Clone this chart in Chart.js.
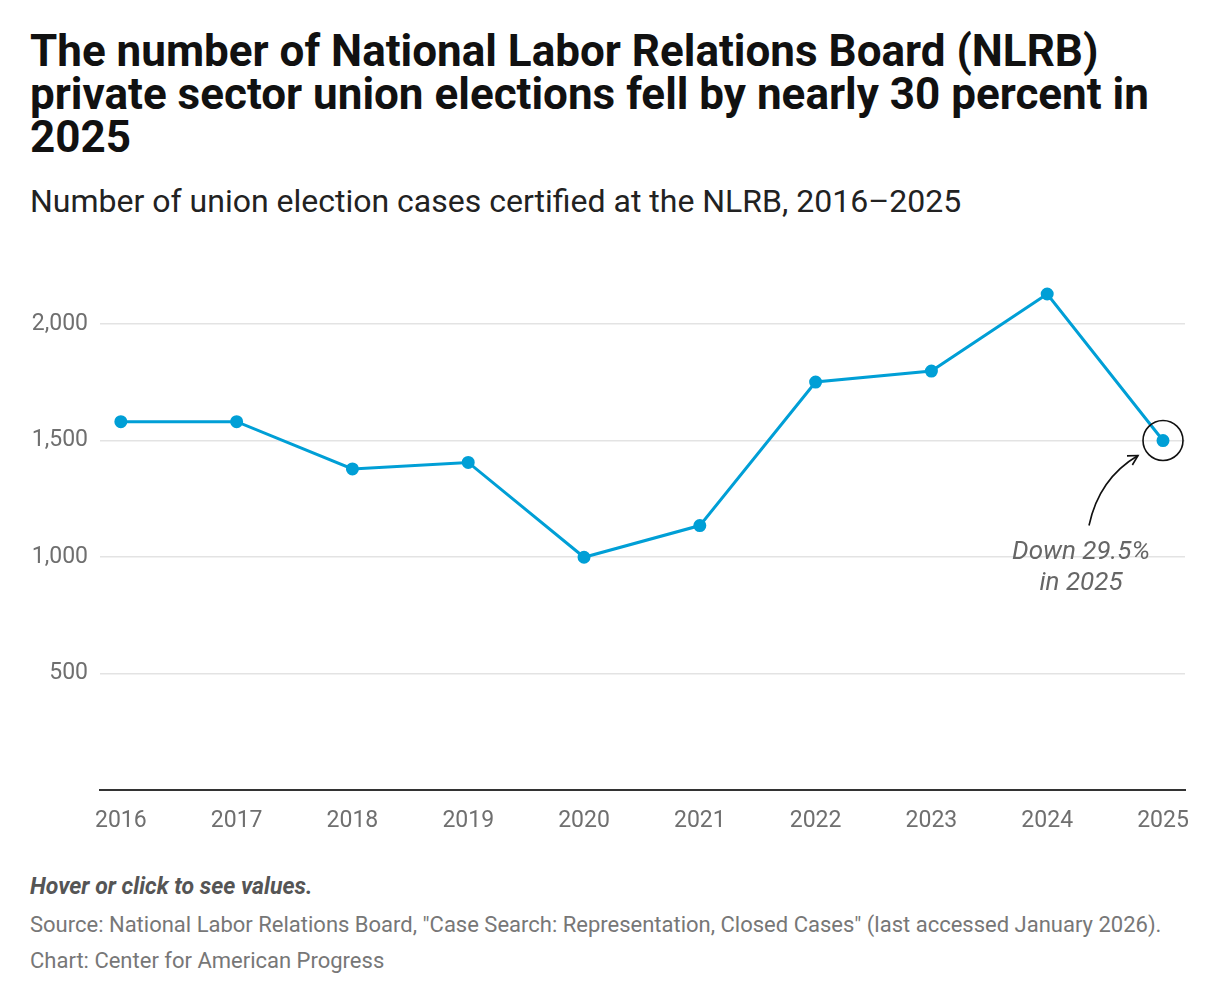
<!DOCTYPE html>
<html>
<head>
<meta charset="utf-8">
<script src="https://cdn.jsdelivr.net/npm/chart.js@4/dist/chart.umd.min.js"></script>
<style>
  html, body { margin: 0; padding: 0; background: #fff; }
  body { width: 1220px; height: 1004px; position: relative; font-family: Roboto, "Noto Sans", sans-serif; overflow: hidden; }
  .title { position: absolute; left: 30px; top: 30px; width: 1170px; font-size: 44px; line-height: 43px; font-weight: 700; color: #111; }
  .subtitle { position: absolute; left: 30px; top: 183px; font-size: 32px; line-height: 36px; color: #222; white-space: nowrap; }
  .chart-box { position: absolute; left: 0; top: 240px; width: 1220px; height: 620px; }
  .note { position: absolute; left: 30px; font-size: 22px; line-height: 24px; color: #777; white-space: nowrap; }
  .hover { top: 875px; font-weight: 700; font-style: italic; color: #555; font-size: 23px; }
  .source { top: 913px; }
  .credit { top: 949px; }
</style>
</head>
<body>
<div class="title">The number of National Labor Relations Board (NLRB) private sector union elections fell by nearly 30 percent in 2025</div>
<div class="subtitle">Number of union election cases certified at the NLRB, 2016–2025</div>
<div class="chart-box"><canvas id="elections-chart"></canvas></div>
<div class="note hover">Hover or click to see values.</div>
<div class="note source">Source: National Labor Relations Board, "Case Search: Representation, Closed Cases" (last accessed January 2026).</div>
<div class="note credit">Chart: Center for American Progress</div>

<script>
// Data
const years = [2016, 2017, 2018, 2019, 2020, 2021, 2022, 2023, 2024, 2025];
const elections = [1581, 1581, 1378, 1406, 999, 1135, 1751, 1798, 2129, 1500];
const yTicks = [500, 1000, 1500, 2000];
const noteLines = ['Down 29.5%', 'in 2025'];

const lineColor = '#009fd6';

// Circle + curved arrow + note around the last point
const calloutPlugin = {
    id: 'callout',
    afterDatasetsDraw(chart) {
        const meta = chart.getDatasetMeta(0);
        const last = meta.data[meta.data.length - 1];
        if (!last) return;
        const px = last.x, py = last.y;
        const ctx = chart.ctx;
        ctx.save();
        ctx.strokeStyle = '#111';
        ctx.lineWidth = 1.6;
        ctx.beginPath();
        ctx.arc(px, py, 20, 0, Math.PI * 2);
        ctx.stroke();

        // curved arrow
        const sx = px - 74, sy = py + 85;
        const ex = px - 25, ey = py + 15;
        ctx.beginPath();
        ctx.moveTo(sx, sy);
        ctx.quadraticCurveTo(px - 64, py + 38, ex, ey);
        ctx.stroke();
        const ang = Math.atan2(ey - (py + 38), ex - (px - 64));
        ctx.beginPath();
        ctx.moveTo(ex - 11 * Math.cos(ang - 0.5), ey - 11 * Math.sin(ang - 0.5));
        ctx.lineTo(ex, ey);
        ctx.lineTo(ex - 11 * Math.cos(ang + 0.5), ey - 11 * Math.sin(ang + 0.5));
        ctx.stroke();

        ctx.fillStyle = '#666';
        ctx.font = 'italic 26px Roboto, sans-serif';
        ctx.textAlign = 'center';
        ctx.textBaseline = 'middle';
        noteLines.forEach((t, i) => ctx.fillText(t, px - 82, py + 112 + i * 31));
        ctx.restore();
    }
};

function createChart() {
    const ctx = document.getElementById('elections-chart').getContext('2d');
    new Chart(ctx, {
        type: 'line',
        data: {
            datasets: [{
                label: 'Union election cases',
                data: years.map((y, i) => ({ x: y, y: elections[i] })),
                borderColor: lineColor,
                backgroundColor: lineColor,
                borderWidth: 3,
                pointRadius: 5,
                pointHoverRadius: 6,
                tension: 0
            }]
        },
        options: {
            responsive: true,
            maintainAspectRatio: false,
            animation: false,
            layout: { padding: { top: 25, right: 35, left: 0, bottom: 0 } },
            plugins: {
                legend: { display: false },
                tooltip: { enabled: true }
            },
            scales: {
                x: {
                    type: 'linear',
                    min: 2015.82,
                    max: 2025.19,
                    afterBuildTicks: (scale) => {
                        scale.ticks = years.map(v => ({ value: v }));
                    },
                    afterFit: (scale) => { scale.height = 70; },
                    grid: { display: false, drawTicks: false },
                    border: { display: true, color: '#333', width: 2 },
                    ticks: {
                        color: '#6f6f6f',
                        padding: 17,
                        font: { family: 'Roboto, sans-serif', size: 23 },
                        callback: (v) => String(v),
                        maxRotation: 0
                    }
                },
                y: {
                    min: 0,
                    max: 2250,
                    afterBuildTicks: (scale) => {
                        scale.ticks = yTicks.map(v => ({ value: v }));
                    },
                    afterFit: (scale) => { scale.width = 100; },
                    grid: { color: '#e3e3e3', lineWidth: 1.5, drawTicks: false },
                    border: { display: false },
                    ticks: {
                        color: '#6f6f6f',
                        padding: 12,
                        font: { family: 'Roboto, sans-serif', size: 23 },
                        callback: (v) => v.toLocaleString('en-US')
                    }
                }
            }
        },
        plugins: [calloutPlugin]
    });
}

createChart();
</script>
</body>
</html>
